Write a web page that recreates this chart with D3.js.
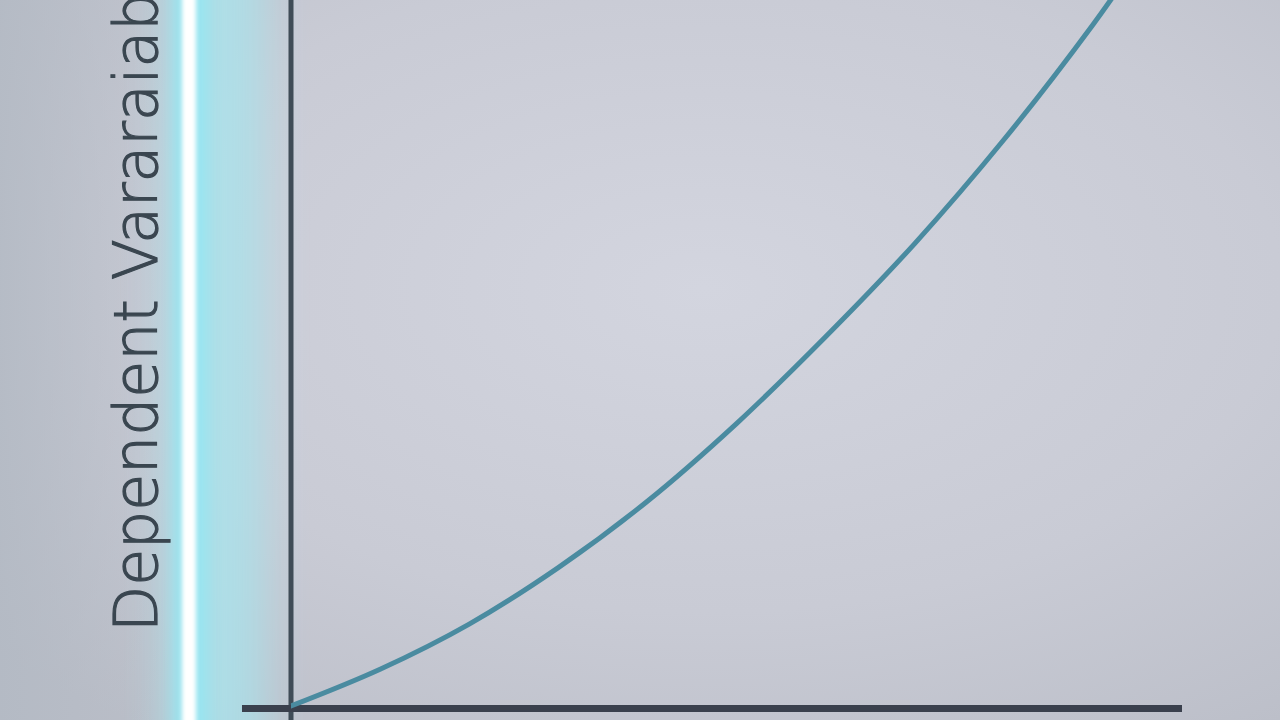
<!DOCTYPE html>
<html>
<head>
<meta charset="utf-8">
<script src="https://cdn.jsdelivr.net/npm/d3@7"></script>
<style>
  html, body { margin: 0; padding: 0; overflow: hidden; background: #c6c9d3; }
  svg { display: block; }
</style>
</head>
<body>
<div id="chart"></div>
<script>
// curve values (x in 0..10, y in 0..100)
var xValues = [0, 1, 2, 3, 4, 5, 6, 7, 8, 9, 9.5];
var yValues = [0, 5.2, 11.6, 19.6, 29.0, 40.0, 52.3, 65.5, 80.2, 96.5, 105.5];
var yLabel = "Dependent Vararaiable";

var width = 1280, height = 720;

var svg = d3.select("#chart").append("svg")
    .attr("width", width)
    .attr("height", height);

var defs = svg.append("defs");

// background gradients
var bg = defs.append("radialGradient")
    .attr("id", "bg")
    .attr("cx", 0.55).attr("cy", 0.4).attr("r", 0.75);
bg.append("stop").attr("offset", "0%").attr("stop-color", "#d3d5df");
bg.append("stop").attr("offset", "60%").attr("stop-color", "#c9cbd5");
bg.append("stop").attr("offset", "100%").attr("stop-color", "#bcbfc9");

var leftShade = defs.append("linearGradient")
    .attr("id", "leftShade")
    .attr("x1", 0).attr("x2", 1).attr("y1", 0).attr("y2", 0);
leftShade.append("stop").attr("offset", "0%").attr("stop-color", "#b2b9c3").attr("stop-opacity", 0.8);
leftShade.append("stop").attr("offset", "100%").attr("stop-color", "#b2b9c3").attr("stop-opacity", 0);

var blurWide = defs.append("filter").attr("id", "blurWide")
    .attr("x", "-300%").attr("width", "700%");
blurWide.append("feGaussianBlur").attr("stdDeviation", 20);

var blurMid = defs.append("filter").attr("id", "blurMid")
    .attr("x", "-300%").attr("width", "700%");
blurMid.append("feGaussianBlur").attr("stdDeviation", 7);

var blurCore = defs.append("filter").attr("id", "blurCore")
    .attr("x", "-200%").attr("width", "500%");
blurCore.append("feGaussianBlur").attr("stdDeviation", 2);

svg.append("rect").attr("width", width).attr("height", height).attr("fill", "url(#bg)");
svg.append("rect").attr("width", 200).attr("height", height).attr("fill", "url(#leftShade)");

// glowing bar
var glow = svg.append("g");
glow.append("rect")
    .attr("x", 165).attr("y", -50).attr("width", 100).attr("height", height + 100)
    .attr("fill", "#a9e3ec").attr("opacity", 0.8)
    .attr("filter", "url(#blurWide)");
glow.append("rect")
    .attr("x", 174).attr("y", -50).attr("width", 34).attr("height", height + 100)
    .attr("fill", "#95e6f2").attr("opacity", 0.9)
    .attr("filter", "url(#blurMid)");
glow.append("rect")
    .attr("x", 182).attr("y", -50).attr("width", 14).attr("height", height + 100)
    .attr("fill", "#ffffff")
    .attr("filter", "url(#blurCore)");

// scales
var x = d3.scaleLinear().domain([0, 10]).range([291, 1182]);
var y = d3.scaleLinear().domain([0, 100]).range([706, 0]);

// y label
svg.append("text")
    .attr("transform", "translate(157," + 632 + ") rotate(-90)")
    .attr("font-family", "DejaVu Sans, sans-serif")
    .attr("font-weight", 300)
    .attr("font-size", 60)
    .attr("fill", "#3a4650")
    .attr("stroke", "#3a4650")
    .attr("stroke-width", 1.2)
    .text(yLabel);

// axes
svg.append("line")
    .attr("x1", x(0)).attr("x2", x(0))
    .attr("y1", 0).attr("y2", height)
    .attr("stroke", "#3f4c57").attr("stroke-width", 5);

svg.append("line")
    .attr("x1", x(-0.55)).attr("x2", x(10))
    .attr("y1", y(0) + 2.5).attr("y2", y(0) + 2.5)
    .attr("stroke", "#3a404d").attr("stroke-width", 7);

// curve
defs.append("clipPath").attr("id", "plotClip")
    .append("rect").attr("x", x(0)).attr("y", 0)
    .attr("width", x(10) - x(0)).attr("height", y(0) + 10);

var points = xValues.map(function (d, i) { return [d, yValues[i]]; });

var line = d3.line()
    .x(function (d) { return x(d[0]); })
    .y(function (d) { return y(d[1]); })
    .curve(d3.curveCatmullRom);

svg.append("path")
    .datum(points)
    .attr("clip-path", "url(#plotClip)")
    .attr("d", line)
    .attr("fill", "none")
    .attr("stroke", "#4a8ba0")
    .attr("stroke-width", 5)
    .attr("stroke-linecap", "round");
</script>
</body>
</html>
